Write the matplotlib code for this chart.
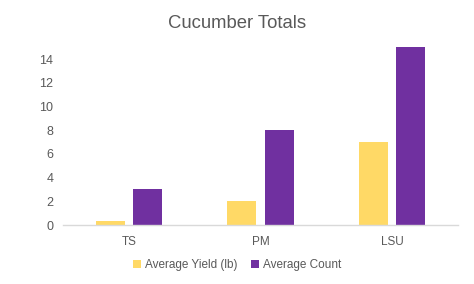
import numpy as np
import matplotlib.pyplot as plt

# data
categories = ['TS', 'PM', 'LSU']
avg_yield = [0.3, 2.05, 7.05]
avg_count = [3, 8, 15]
series_names = ['Average Yield (lb)', 'Average Count']
yticks = [0, 2, 4, 6, 8, 10, 12, 14]

plt.rcParams['font.family'] = ['Liberation Sans', 'DejaVu Sans']

fig = plt.figure(figsize=(4.74, 2.84), dpi=100)
ax = fig.add_axes([0.133, 0.2077, 0.833, 0.667])

x = np.arange(len(categories))
w = 0.22
off = 0.142
ax.bar(x - off, avg_yield, w, color='#FFD966', label=series_names[0])
ax.bar(x + off, avg_count, w, color='#7030A0', label=series_names[1])

ax.set_xlim(-0.5, len(categories) - 0.5)
ax.set_ylim(0, 16)
ax.set_yticks(yticks)
ax.set_xticks(x)
ax.set_xticklabels(categories)
ax.tick_params(axis='both', length=0, colors='#595959')
ax.tick_params(axis='y', pad=7, labelsize=9)
ax.tick_params(axis='x', pad=8, labelsize=8.5)

for s in ['top', 'right', 'left']:
    ax.spines[s].set_visible(False)
ax.spines['bottom'].set_color('#D9D9D9')
ax.spines['bottom'].set_linewidth(1.0)

fig.suptitle('Cucumber Totals', y=0.948, fontsize=13.3, color='#595959')

fig.legend(loc='center', bbox_to_anchor=(0.5, 0.067), ncol=2, frameon=False,
           fontsize=8.5, labelcolor='#595959', handlelength=0.7, handleheight=0.7,
           handletextpad=0.3, columnspacing=1.2)

fig.savefig('out.png', dpi=100)
